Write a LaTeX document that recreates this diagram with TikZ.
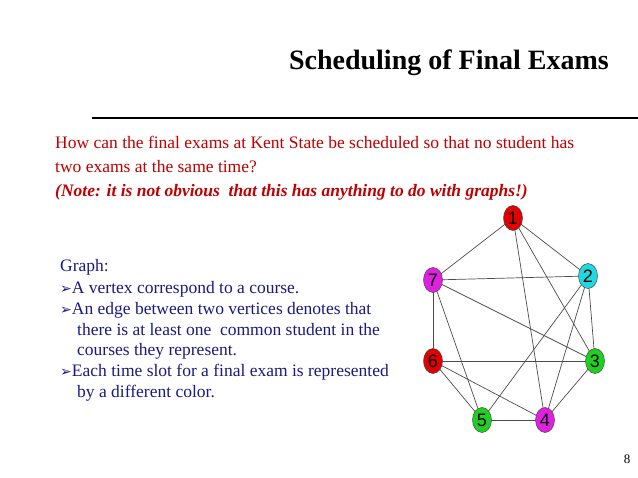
\documentclass[tikz,border=0pt]{standalone}
\usepackage{fontspec}
\usetikzlibrary{shapes.geometric,backgrounds}
\setmainfont{Liberation Serif}
\newfontfamily\arialf{Liberation Sans}
\newfontfamily\djvf{DejaVu Sans}
\definecolor{txtred}{HTML}{C00000}
\definecolor{navy}{HTML}{1A1A80}
\definecolor{vred}{HTML}{E00000}
\definecolor{vcyan}{HTML}{20D8E0}
\definecolor{vgreen}{HTML}{20D020}
\definecolor{vmag}{HTML}{E020E0}
\newcommand{\bul}{{\djvf\fontsize{14}{14}\selectfont ➢}}
\begin{document}
\begin{tikzpicture}[x=1pt,y=-1pt,
  vtx/.style={ellipse,draw=black!70,line width=0.5pt,minimum width=19pt,minimum height=25pt,inner sep=0pt,font=\arialf\fontsize{18}{18}\selectfont},
  edge/.style={draw=black!70,line width=0.7pt},
  body/.style={anchor=west,font=\fontsize{17.5}{17.5}\selectfont,inner sep=0pt}]
\useasboundingbox (0,0) rectangle (638,478);
\node[anchor=east,font=\bfseries\fontsize{28}{28}\selectfont,inner sep=0pt] (title) at (609,63) {Scheduling of Final Exams};
\coordinate (l1) at (92,118); \coordinate (l2) at (638,118);
\draw[line width=1.5pt] (l1) -- (l2);
\node[body,text=txtred] (q1) at (55,142) {How can the final exams at Kent State be scheduled so that no student has};
\node[body,text=txtred] (q2) at (55,167) {two exams at the same time?};
\node[body,text=txtred,font=\bfseries\itshape\fontsize{17.5}{17.5}\selectfont] (q3) at (55,192) {(Note: it is not obvious\ \ that this has anything to do with graphs!)};
\node[body,text=navy] (g0) at (60,267) {Graph:};
\node[body,text=navy] (g1) at (60,289) {\bul A vertex correspond to a course.};
\node[body,text=navy] (g2) at (60,310) {\bul An edge between two vertices denotes that};
\node[body,text=navy] (g3) at (77,330) {there is at least one\ \ common student in the};
\node[body,text=navy] (g4) at (77,351) {courses they represent.};
\node[body,text=navy] (g5) at (60,372) {\bul Each time slot for a final exam is represented};
\node[body,text=navy] (g6) at (77,393) {by a different color.};
\node[vtx,fill=vred] (v1) at (513,218) {1};
\node[vtx,fill=vcyan] (v2) at (588,276) {2};
\node[vtx,fill=vgreen] (v3) at (595,361) {3};
\node[vtx,fill=vmag] (v4) at (545,420) {4};
\node[vtx,fill=vgreen] (v5) at (482,420) {5};
\node[vtx,fill=vred] (v6) at (433,361) {6};
\node[vtx,fill=vmag] (v7) at (433,280) {7};
\begin{scope}[on background layer]
\foreach \a/\b in {1/7,1/2,1/4,1/3,7/2,7/6,7/5,7/3,2/3,2/5,2/4,6/3,6/5,6/4,5/4,3/4}
  \path[edge] (v\a.center) -- (v\b.center);
\end{scope}
\node[font=\fontsize{13}{13}\selectfont,inner sep=0pt] (pg) at (627,459) {8};
\end{tikzpicture}
\end{document}
